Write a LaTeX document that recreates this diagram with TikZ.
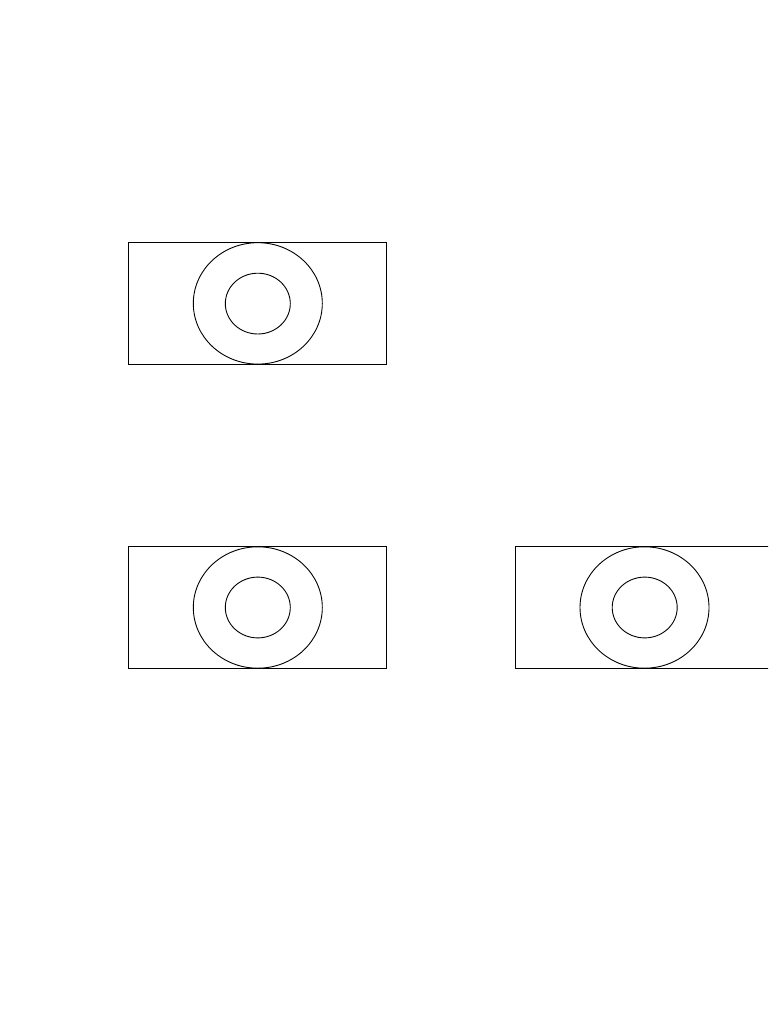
\documentclass[tikz,border=0pt]{standalone}
\usetikzlibrary{shapes.geometric}
\begin{document}
\begin{tikzpicture}[x=1pt,y=-1pt,
  frame/.style={draw=black,line width=0.9pt,rectangle,inner sep=0pt,outer sep=0pt,minimum width=258.4pt,minimum height=121.4pt},
  ring/.style={draw=black,line width=0.9pt,ellipse,inner sep=0pt,outer sep=0pt,minimum width=129pt,minimum height=121.4pt},
  hole/.style={draw=black,line width=0.9pt,ellipse,inner sep=0pt,outer sep=0pt,minimum width=65pt,minimum height=60.8pt}]
\useasboundingbox (0,0) rectangle (768,1024);
\clip (0,0) rectangle (768,1024);
\fill[white] (0,0) rectangle (768,1024);
% top left
\node[frame] (r1) at (257.5,303.4) {};
\node[ring] (o1) at (257.8,303.4) {};
\node[hole] (i1) at (257.8,303.6) {};
% bottom left
\node[frame] (r2) at (257.5,607.5) {};
\node[ring] (o2) at (257.8,607.5) {};
\node[hole] (i2) at (257.8,607.5) {};
% bottom right (cut off)
\node[frame] (r3) at (644.9,607.5) {};
\node[ring] (o3) at (644.5,607.5) {};
\node[hole] (i3) at (644.7,607.5) {};
\end{tikzpicture}
\end{document}
